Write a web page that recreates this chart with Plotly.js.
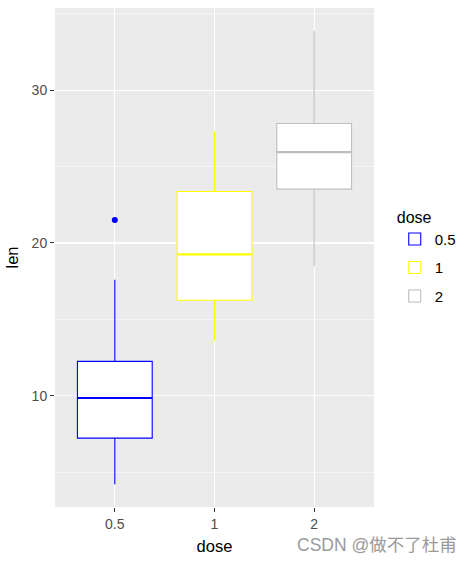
<!DOCTYPE html>
<html><head><meta charset="utf-8">
<script src="https://cdn.plot.ly/plotly-3.0.1.min.js"></script>
<style>body{margin:0;background:#fff}#chart{width:474px;height:563px}</style>
</head><body><div id="chart"></div>
<script>
const doses = ["0.5", "1", "2"];
const colors = ["#0000FF", "#FFFF00", "#BEBEBE"];
const q1 = [7.225, 16.25, 23.525];
const median = [9.85, 19.25, 25.95];
const q3 = [12.25, 23.375, 27.825];
const lowerWhisker = [4.2, 13.6, 18.5];
const upperWhisker = [17.6, 27.3, 33.9];
const outlierDose = [0];
const outlierLen = [21.5];
const boxWidth = 0.75;

const traces = doses.map((d, i) => ({
  type: "box", name: d, legendgroup: "g" + i, x: [i], q1: [q1[i]], median: [median[i]], q3: [q3[i]],
  lowerfence: [lowerWhisker[i]], upperfence: [upperWhisker[i]],
  width: boxWidth, whiskerwidth: 0, fillcolor: "#FFFFFF",
  line: {color: colors[i], width: 1.1}, boxpoints: false, hoverinfo: "skip"
}));
traces.push({
  type: "scatter", mode: "markers", x: outlierDose, y: outlierLen, showlegend: false,
  marker: {color: colors[0], size: 6}
});
doses.forEach((d, i) => {
  traces.push({
    type: "scatter", mode: "lines", showlegend: false, hoverinfo: "skip",
    x: [i - boxWidth / 2, i + boxWidth / 2], y: [median[i], median[i]],
    line: {color: colors[i], width: 2.2}
  });
});

const layout = {
  width: 474, height: 563,
  margin: {l: 55, r: 100, t: 8, b: 56},
  paper_bgcolor: "#FFFFFF", plot_bgcolor: "#EBEBEB",
  font: {family: "Liberation Sans, Arial, sans-serif", color: "#4D4D4D", size: 14},
  showlegend: true,
  legend: {
    x: 1.065, xanchor: "left", y: 0.50, yanchor: "middle",
    title: {text: "dose", font: {size: 16, color: "#000000"}},
    font: {size: 15, color: "#000000"}, bgcolor: "rgba(0,0,0,0)",
    tracegroupgap: 6, itemwidth: 30
  },
  xaxis: {
    range: [-0.6, 2.6], tickvals: [0, 1, 2], ticktext: doses,
    showgrid: true, gridcolor: "#FFFFFF", gridwidth: 1.1, zeroline: false,
    ticks: "outside", ticklen: 4, tickcolor: "#333333", tickwidth: 1,
    tickfont: {size: 14, color: "#4D4D4D"},
    title: {text: "dose", font: {size: 16.5, color: "#000000"}, standoff: 9}
  },
  yaxis: {
    range: [2.715, 35.385], tickvals: [10, 20, 30],
    showgrid: true, gridcolor: "#FFFFFF", gridwidth: 1.1, zeroline: false,
    ticks: "outside", ticklen: 4, tickcolor: "#333333", tickwidth: 1,
    tickfont: {size: 14, color: "#4D4D4D"},
    minor: {tickvals: [5, 15, 25, 35], showgrid: true, gridcolor: "#FFFFFF", gridwidth: 0.5, ticks: ""},
    title: {text: "len", font: {size: 16.5, color: "#000000"}, standoff: 8}
  },
  annotations: [{
    text: "CSDN @做不了杜甫", xref: "paper", yref: "paper", x: 1.265, y: 0, yshift: -38,
    xanchor: "right", yanchor: "middle", showarrow: false,
    font: {size: 17.5, color: "#9A9A9A", family: "Liberation Sans, Noto Sans CJK SC, sans-serif"}
  }]
};
Plotly.newPlot("chart", traces, layout, {displayModeBar: false, staticPlot: true});
</script></body></html>
